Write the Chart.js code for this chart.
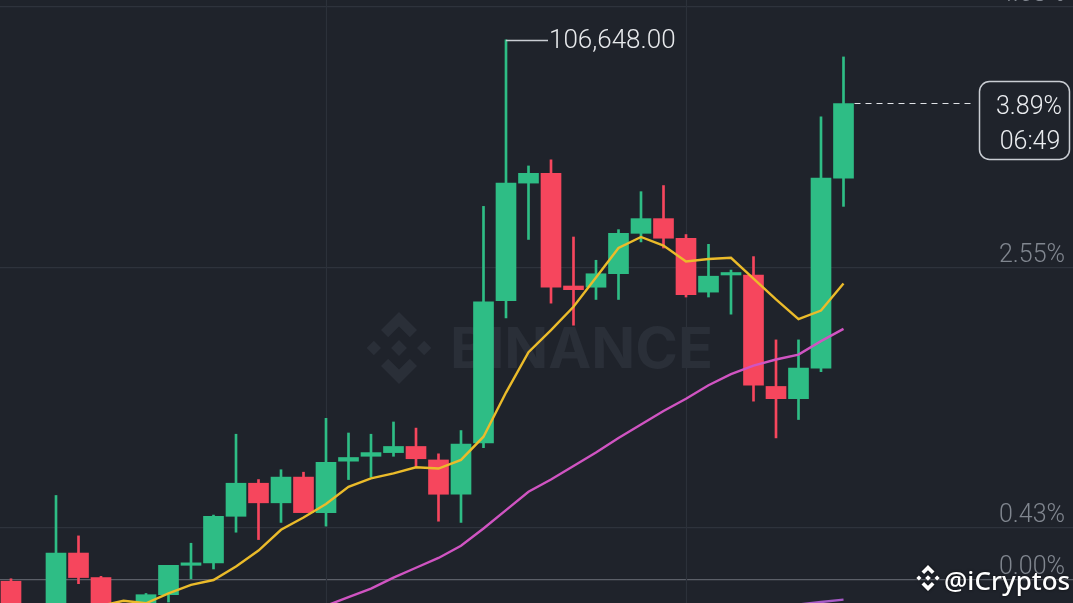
<!DOCTYPE html>
<html>
<head>
<meta charset="utf-8">
<script src="https://cdn.jsdelivr.net/npm/chart.js@4.4.1/dist/chart.umd.min.js"></script>
<style>
  html, body { margin: 0; padding: 0; background: #1f232b; overflow: hidden; }
  #wrap { width: 1073px; height: 603px; }
</style>
</head>
<body>
<div id="wrap"><canvas id="chart" width="1073" height="603"></canvas></div>
<script>
// candle values, % change from reference price
const candles = [...Array(38).keys()];
const opens  = [-0.01,-0.49,-0.26,0.22,0.02,-0.27,-0.34,-0.12,0.12,0.14,0.52,0.79,0.63,0.84,0.55,0.97,1.01,1.04,1.09,0.98,0.70,1.12,2.28,3.24,3.32,2.40,2.39,2.50,2.83,2.95,2.79,2.35,2.49,2.49,1.58,1.48,1.73,3.28];
const closes = [-0.29,-0.26,0.22,0.02,-0.26,-0.34,-0.12,0.12,0.14,0.52,0.79,0.63,0.84,0.55,0.96,1.00,1.04,1.09,0.99,0.70,1.11,2.27,3.24,3.32,2.39,2.37,2.50,2.83,2.95,2.79,2.33,2.48,2.51,1.59,1.48,1.73,3.28,3.89];
const highs  = [0.01,-0.23,0.69,0.36,0.03,-0.25,-0.11,0.12,0.30,0.53,1.19,0.82,0.90,0.88,1.32,1.20,1.19,1.29,1.24,1.03,1.22,3.05,4.41,3.38,3.43,2.80,2.61,2.86,3.17,3.22,2.82,2.74,2.53,2.64,1.96,1.96,3.78,4.27];
const lows   = [-0.33,-0.53,-0.31,-0.03,-0.29,-0.38,-0.36,-0.18,0.01,0.09,0.39,0.33,0.47,0.55,0.44,0.82,0.84,1.01,0.92,0.48,0.47,1.08,2.14,2.78,2.26,2.08,2.29,2.29,2.76,2.71,2.31,2.31,2.17,1.46,1.16,1.31,1.70,3.05];

// moving averages (null = off screen)
const ma7  = [null,null,null,null,-0.21,-0.17,-0.19,-0.11,-0.04,0.00,0.11,0.24,0.41,0.51,0.62,0.76,0.83,0.87,0.92,0.91,0.98,1.17,1.53,1.86,2.04,2.23,2.47,2.71,2.80,2.73,2.60,2.62,2.63,2.46,2.29,2.13,2.20,2.42];
const ma25 = [null,null,null,null,null,null,null,null,null,null,null,null,null,null,-0.21,-0.14,-0.07,0.02,0.10,0.18,0.28,0.42,0.57,0.72,0.82,0.93,1.04,1.16,1.27,1.38,1.48,1.59,1.68,1.75,1.80,1.84,1.95,2.05];
const ma99 = [null,null,null,null,null,null,null,null,null,null,null,null,null,null,null,null,null,null,null,null,null,null,null,null,null,null,null,null,null,null,null,null,null,null,null,-0.20,-0.18,-0.16];

const tickValues = [0, 0.43, 2.55, 4.68];
const xGridValues = [14, 30];
const highLabel = '106,648.00';
const highIndex = 22;
const lastPctLabel = '3.89%';
const countdownLabel = '06:49';

const GREEN = '#2ebd85';
const RED = '#f6465d';
const candleColor = candles.map(i => closes[i] >= opens[i] ? GREEN : RED);

function drawBnbLogo(ctx, cx, cy, s) {
    const diamond = (x, y, h) => {
        ctx.beginPath();
        ctx.moveTo(x, y - h); ctx.lineTo(x + h, y); ctx.lineTo(x, y + h); ctx.lineTo(x - h, y);
        ctx.closePath(); ctx.fill();
    };
    diamond(cx, cy, s * 0.22);
    diamond(cx - s * 0.7, cy, s * 0.2);
    diamond(cx + s * 0.7, cy, s * 0.2);
    [-1, 1].forEach(d => {
        ctx.beginPath();
        ctx.moveTo(cx, cy + d * s);
        ctx.lineTo(cx + s * 0.5, cy + d * s * 0.5);
        ctx.lineTo(cx + s * 0.3, cy + d * s * 0.3);
        ctx.lineTo(cx, cy + d * s * 0.6);
        ctx.lineTo(cx - s * 0.3, cy + d * s * 0.3);
        ctx.lineTo(cx - s * 0.5, cy + d * s * 0.5);
        ctx.closePath(); ctx.fill();
    });
}

const backdrop = {
    id: 'backdrop',
    beforeDatasetsDraw(chart) {
        const {ctx, chartArea, scales} = chart;
        ctx.save();
        // vertical grid
        ctx.strokeStyle = '#2c313a';
        ctx.lineWidth = 1.2;
        xGridValues.forEach(v => {
            const x = Math.round(scales.x.getPixelForValue(v)) + 0.5;
            ctx.beginPath(); ctx.moveTo(x, chartArea.top); ctx.lineTo(x, chartArea.bottom); ctx.stroke();
        });
        // watermark
        ctx.fillStyle = '#2a2f38';
        drawBnbLogo(ctx, 399, 348, 36);
        ctx.font = 'bold 56px Inter, "Noto Sans", sans-serif';
        ctx.textBaseline = 'alphabetic';
        const w = ctx.measureText('BINANCE').width;
        ctx.translate(450, 368);
        ctx.scale(263 / w, 1);
        ctx.fillText('BINANCE', 0, 0);
        ctx.restore();
    }
};

const overlays = {
    id: 'overlays',
    afterDatasetsDraw(chart) {
        const {ctx, scales} = chart;
        const xs = scales.x, ys = scales.y;
        ctx.save();
        // highest price marker
        const hx = xs.getPixelForValue(highIndex), hy = Math.round(ys.getPixelForValue(highs[highIndex])) + 0.5;
        ctx.strokeStyle = '#c9cdd3';
        ctx.lineWidth = 1.5;
        ctx.beginPath(); ctx.moveTo(hx, hy); ctx.lineTo(hx + 42, hy); ctx.stroke();
        ctx.fillStyle = '#e8eaed';
        ctx.font = '300 26px Roboto, "Noto Sans", sans-serif';
        ctx.textBaseline = 'middle';
        ctx.textAlign = 'left';
        ctx.fillText(highLabel, hx + 43, hy + 1);

        // last price line + box
        const last = closes.length - 1;
        const lx = xs.getPixelForValue(last) + 11;
        const ly = Math.round(ys.getPixelForValue(closes[last])) + 0.5;
        ctx.setLineDash([6, 5]);
        ctx.strokeStyle = '#e0e3e7';
        ctx.lineWidth = 1.2;
        ctx.beginPath(); ctx.moveTo(lx, ly); ctx.lineTo(974, ly); ctx.stroke();
        ctx.setLineDash([]);
        ctx.fillStyle = '#1f232b';
        ctx.strokeStyle = '#c9cdd3';
        ctx.lineWidth = 1.5;
        ctx.beginPath();
        ctx.roundRect(979.5, 81.5, 90, 78, 10);
        ctx.fill(); ctx.stroke();
        ctx.fillStyle = '#eceef1';
        ctx.textAlign = 'center';
        ctx.font = '300 25px Roboto, "Noto Sans", sans-serif';
        ctx.fillText(lastPctLabel, 1029, 108);
        ctx.fillText(countdownLabel, 1030, 143);

        // author tag
        ctx.shadowColor = 'rgba(0,0,0,0.7)';
        ctx.shadowBlur = 3;
        ctx.fillStyle = '#ffffff';
        drawBnbLogo(ctx, 928, 578, 13);
        ctx.textAlign = 'left';
        ctx.textBaseline = 'alphabetic';
        ctx.font = '500 26px "Noto Sans", sans-serif';
        ctx.fillText('@iCryptos', 944, 590);
        ctx.restore();
    }
};

const ctx = document.getElementById('chart').getContext('2d');
const chart = new Chart(ctx, {
    type: 'bar',
    data: {
        datasets: [
            {
                type: 'line', label: 'MA7', order: 0,
                data: candles.map(i => ({x: i, y: ma7[i]})),
                borderColor: '#ebbb2a', borderWidth: 2.4, pointRadius: 0, tension: 0
            },
            {
                type: 'line', label: 'MA25', order: 0,
                data: candles.map(i => ({x: i, y: ma25[i]})),
                borderColor: '#d054c2', borderWidth: 2.4, pointRadius: 0, tension: 0
            },
            {
                type: 'line', label: 'MA99', order: 0,
                data: candles.map(i => ({x: i, y: ma99[i]})),
                borderColor: '#a65ac6', borderWidth: 2.4, pointRadius: 0, tension: 0
            },
            {
                label: 'body', order: 1, grouped: false,
                data: candles.map(i => ({x: i, y: [opens[i], closes[i]]})),
                backgroundColor: candleColor, barThickness: 20, minBarLength: 2,
                borderWidth: 0, borderSkipped: false
            },
            {
                label: 'wick', order: 2, grouped: false,
                data: candles.map(i => ({x: i, y: [lows[i], highs[i]]})),
                backgroundColor: candleColor, barThickness: 2,
                borderWidth: 0, borderSkipped: false
            }
        ]
    },
    options: {
        responsive: false,
        animation: false,
        devicePixelRatio: 1,
        layout: { padding: 0 },
        plugins: { legend: { display: false }, tooltip: { enabled: false } },
        scales: {
            x: {
                type: 'linear', display: false, offset: false,
                min: -11 / 22.5, max: (1073 - 11) / 22.5
            },
            y: {
                type: 'linear', position: 'right',
                min: -23 / 122.5, max: 580 / 122.5,
                afterBuildTicks: s => { s.ticks = tickValues.map(v => ({value: v})); },
                afterFit: s => { s.width = 0; s.paddingTop = 0; s.paddingBottom = 0; },
                border: { display: false },
                grid: {
                    drawTicks: false, lineWidth: 1.2,
                    color: c => (c.tick && c.tick.value === 0) ? '#5b5f68' : '#2e333c'
                },
                ticks: {
                    mirror: true, padding: -8, labelOffset: -12,
                    color: '#80868f',
                    font: { family: 'Roboto, "Noto Sans", sans-serif', size: 25, weight: '300' },
                    callback: v => v.toFixed(2) + '%'
                }
            }
        }
    },
    plugins: [backdrop, overlays]
});
</script>
</body>
</html>
